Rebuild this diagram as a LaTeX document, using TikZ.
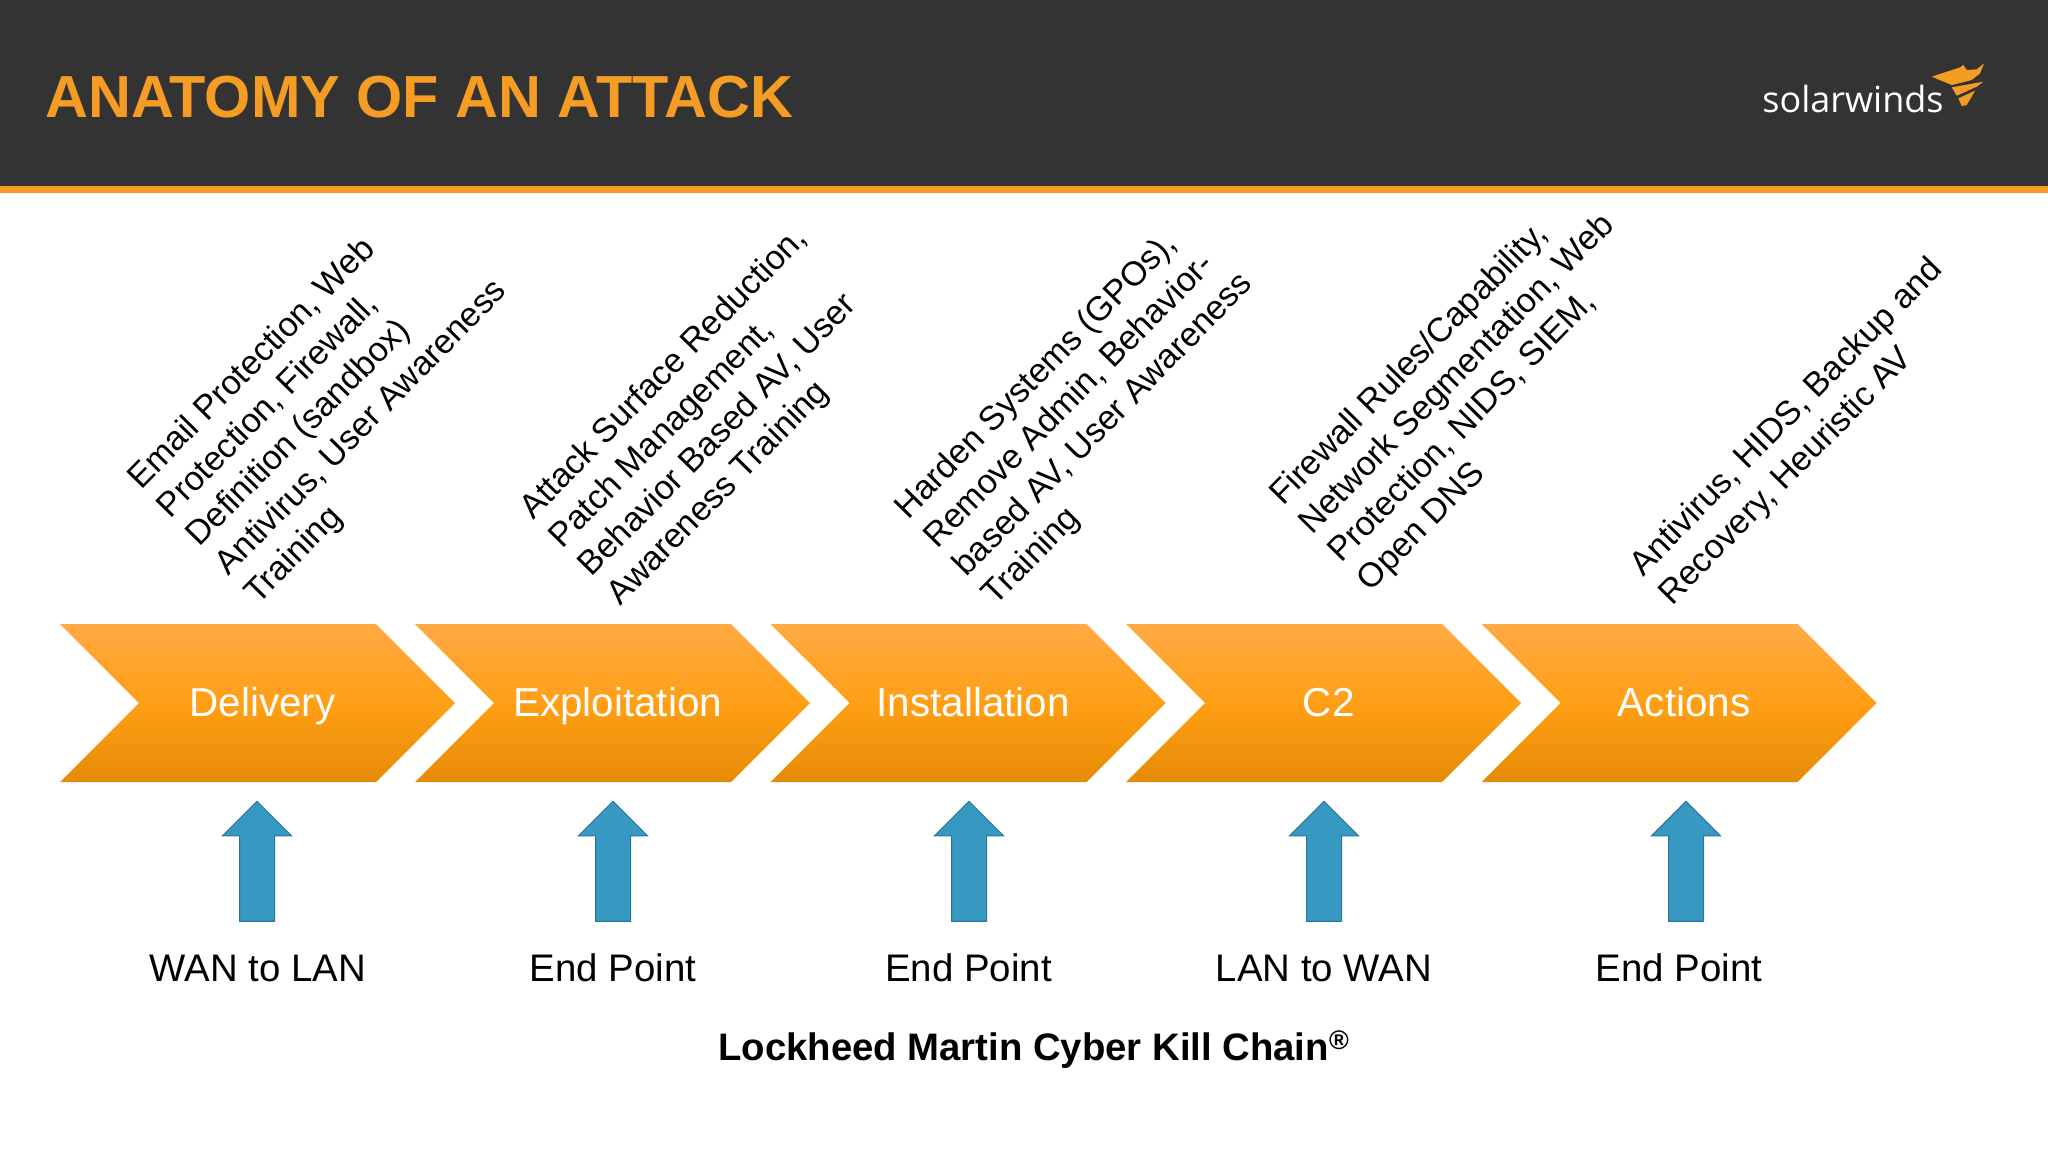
\documentclass[tikz,border=0pt]{standalone}
\usepackage{fontspec}
\setmainfont{Liberation Sans}
\newfontfamily\logofont{Open Sans}
\usetikzlibrary{shapes.symbols,shapes.arrows}

\definecolor{headdark}{HTML}{333333}
\definecolor{headorange}{HTML}{F59C25}
\definecolor{chevtop}{HTML}{FFAA45}
\definecolor{chevmid}{HTML}{FF9F15}
\definecolor{chevbot}{HTML}{E68B06}
\definecolor{arrowblue}{HTML}{3798C1}
\definecolor{arrowline}{HTML}{27779A}

\tikzset{
  chevron/.style={signal, signal to=east, signal from=west, signal pointer angle=90,
    minimum width=197.5pt, minimum height=79pt, inner sep=0pt, outer sep=0pt,
    top color=chevtop, bottom color=chevbot, middle color=chevmid, text=white,
    text height=17.6pt, text depth=4.2pt,
    execute at begin node=\hspace*{5.2pt},
    font=\fontsize{20.2}{24}\selectfont},
  uparrow/.style={single arrow, shape border rotate=90, single arrow tip angle=90,
    single arrow head extend=8.5pt, minimum height=60pt, minimum width=34.5pt,
    inner sep=8.5pt, outer sep=0pt, fill=arrowblue, draw=arrowline, line width=0.5pt},
  place/.style={font=\fontsize{19.2}{24}\selectfont, inner sep=0pt},
  defense/.style={rotate=45.5, anchor=north west, align=left, inner sep=0pt,
    font=\fontsize{17}{20.5}\selectfont},
  flame/.style={fill=headorange, draw=none}
}

\begin{document}
\begin{tikzpicture}[x=0.5pt, y=-0.5pt]
    \useasboundingbox (0,0) rectangle (2048,1152);

    % Header
    \fill[headdark] (0,0) rectangle (2048,186);
    \fill[headorange] (0,186) rectangle (2048,193);
    \node[anchor=west, inner sep=0pt, text=headorange, font=\fontsize{29.7}{36}\selectfont\bfseries] at (45,97) (title) {ANATOMY OF AN ATTACK};
    \node[anchor=base west, inner sep=0pt, text=white, font=\fontsize{18}{20}\selectfont\logofont] at (1762,112) (logo) {solarwinds};

    % Logo flame
    \begin{scope}[shift={(1700,30)}, x=0.1667pt, y=-0.1667pt]
        \fill[flame] (695,140) -- (780,112) -- (790,105) -- (800,120) -- (830,118) -- (852,100) -- (840,130) -- (815,150) -- (755,165) -- cycle;
        \fill[flame] (755,172) -- (850,155) -- (830,170) -- (770,197) -- cycle;
        \fill[flame] (775,205) -- (825,182) -- (800,225) -- (785,228) -- cycle;
    \end{scope}

    % Defenses
    \node[defense] at (123,473) (da) {Email Protection, Web\\Protection, Firewall,\\Definition (sandbox)\\Antivirus, User Awareness\\Training};
    \node[defense] at (515,503) (db) {Attack Surface Reduction,\\Patch Management,\\Behavior Based AV, User\\Awareness Training};
    \node[defense] at (890,503) (dc) {Harden Systems (GPOs),\\Remove Admin, Behavior-\\based AV, User Awareness\\Training};
    \node[defense] at (1265,489) (dd) {Firewall Rules/Capability,\\Network Segmentation, Web\\Protection, NIDS, SIEM,\\Open DNS};
    \node[defense] at (1625,560) (de) {Antivirus, HIDS, Backup and\\Recovery, Heuristic AV};

    % Chain
    \node[chevron] at (257.5,703) (a) {Delivery};
    \node[chevron] at (612.5,703) (b) {Exploitation};
    \node[chevron] at (968,703) (c) {Installation};
    \node[chevron] at (1323.5,703) (d) {C2};
    \node[chevron] at (1679,703) (e) {Actions};

    % Arrows
    \node[uparrow] at (257,870) (pa) {};
    \node[uparrow] at (613,870) (pb) {};
    \node[uparrow] at (969,870) (pc) {};
    \node[uparrow] at (1324,870) (pd) {};
    \node[uparrow] at (1686,870) (pe) {};

    % Places
    \node[place] at (258,968) (la) {WAN to LAN};
    \node[place] at (613,968) (lb) {End Point};
    \node[place] at (968.5,968) (lc) {End Point};
    \node[place] at (1324,968) (ld) {LAN to WAN};
    \node[place] at (1679,968) (le) {End Point};

    % Caption
    \node[font=\fontsize{19.15}{24}\selectfont\bfseries, inner sep=0pt] at (1034,1049.5) (cap) {Lockheed Martin Cyber Kill Chain\raisebox{-2pt}{\textsuperscript{\textregistered}}};
\end{tikzpicture}
\end{document}
